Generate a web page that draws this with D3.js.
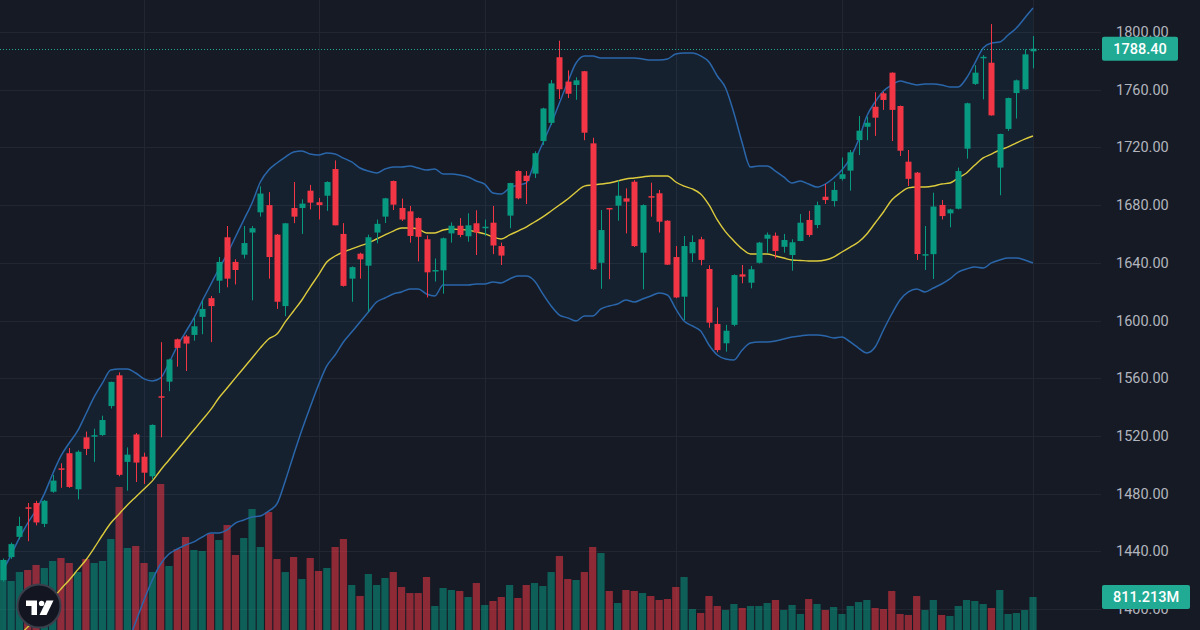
<!DOCTYPE html>
<html>
<head>
<meta charset="utf-8">
<script src="https://cdn.jsdelivr.net/npm/d3@7"></script>
<style>
  html, body { margin: 0; padding: 0; background: #161a25; overflow: hidden; }
</style>
</head>
<body>
<div id="container"></div>
<script>

// daily OHLC (125 candles, oldest first)
const open = [1420,1436,1450,1470.5,1473.5,1459,1481.3,1497.5,1508,1483,1519,1519.5,1520.6,1540.7,1562,1502,1521,1505.6,1492,1547.5,
  1557.6,1587,1589,1590,1602.5,1615.5,1627.6,1657.7,1640.6,1645.6,1661,1675,1680,1659.5,1610,1678,1678,1690,1682,1686.5,
  1705,1660,1629,1646.3,1638,1661,1672,1696.7,1678,1675.7,1671,1656.3,1634,1634.8,1660.4,1665.7,1658.4,1667.4,1664,1667.8,
  1651.6,1672.7,1703.6,1700.4,1701.8,1724.4,1737,1782.5,1765.6,1763.3,1772.8,1722.8,1640,1678,1679.6,1684.7,1696.2,1647,1686.2,1688.2,
  1669.2,1644,1616.5,1646.6,1656.3,1635.7,1597.6,1584.2,1597,1632,1626.2,1640,1656.7,1658.8,1651.1,1645.4,1655.1,1669.7,1666.2,1685.8,
  1682.8,1698.2,1703.9,1725.1,1734.3,1748.2,1757.5,1771.8,1748.7,1710.1,1702.5,1645,1646,1680.1,1674.3,1677.5,1719.1,1764,1782,1778.7,
  1706,1732.8,1757.7,1760.3,1786.6];
const high = [1435,1446,1464,1473.5,1475,1475.6,1493,1501,1511.6,1510,1523,1525,1534,1557.6,1564,1512,1522,1508.4,1528,1585,
  1573.5,1587.5,1590,1602,1614,1617,1644,1665.5,1642.5,1665.5,1665.5,1693,1689,1660,1667.5,1696,1684,1694,1685,1696.5,
  1711,1667.5,1637.5,1647,1659.5,1670,1685,1697,1684.5,1679.4,1671.5,1659,1643,1657.5,1668,1671,1674.3,1676.4,1670,1679.4,
  1654,1695.5,1704,1703.6,1717.3,1747.5,1766.7,1794,1773.4,1768.6,1773,1726.7,1676.6,1678,1697,1691.6,1697.4,1680.5,1695.5,1690.5,
  1669.5,1651.6,1658.6,1659,1658,1638.3,1609,1597,1632,1638.5,1637.8,1654.5,1661,1661,1660,1656.3,1673.8,1676,1682.4,1694.6,
  1696.2,1713,1718.2,1741.8,1741.3,1758.2,1758.6,1772,1749,1718.2,1703,1665.5,1688.6,1683.5,1677.5,1706,1751,1777,1784,1805.5,
  1729.5,1754.5,1767,1788,1797.2];
const low = [1419,1434.7,1448.3,1447,1458,1456.8,1480.6,1484,1484,1476,1506.7,1502,1520,1539,1492,1482,1488,1486.7,1490,1519,
  1551,1568,1565,1586,1590.5,1585,1619,1623,1625,1643,1614,1672,1629,1608,1603,1667.5,1660,1677,1670,1676,
  1666,1623.5,1613,1629,1606,1653.5,1667.6,1676.6,1669,1654,1641,1616,1627,1618.6,1654,1657.7,1654.6,1645.4,1658.6,1646,
  1638.5,1664,1684,1680.8,1698.8,1721.7,1735.5,1753.6,1754.2,1753,1725,1635,1622,1628.6,1669.2,1660.4,1651,1621.6,1672,1661,
  1638.5,1615.5,1600.3,1640.6,1638.3,1595,1578,1578.4,1596,1625.8,1622.3,1639.5,1647,1643,1647,1634.5,1655,1658,1664,1680.8,
  1679,1697,1690,1714.7,1725,1728,1746,1724.4,1714,1693.2,1642,1635,1628.8,1670,1664.6,1677,1712.2,1763.3,1753.3,1742,
  1686.8,1731.4,1740,1760,1774.8];
const close = [1434,1445,1457.5,1469.5,1460,1475,1489,1496.5,1484.6,1509,1511,1520.5,1531,1557.4,1493,1507,1501.5,1494.5,1527.6,1546.5,
  1573,1581,1584,1596,1608,1610,1640.6,1629,1635,1653.7,1664,1688,1644,1613,1667.4,1672,1681,1681.7,1680,1696,
  1666,1624,1637,1642.4,1657.7,1667,1684.7,1680.3,1670,1658.6,1658,1633.4,1635,1657,1665.7,1659.3,1666,1661,1665,1652,
  1645,1695.3,1684.7,1696.7,1716,1747,1764.4,1760.3,1757.2,1766.5,1730.2,1635.5,1662.7,1677.3,1686.5,1682.4,1651.6,1680,1685.5,1668.5,
  1638.7,1616,1651.6,1654.4,1642,1598.5,1579.5,1592.9,1631.5,1630.4,1635.5,1654,1659.5,1648.2,1655.8,1654.2,1667.8,1659.3,1680,1683.5,
  1690.5,1701.4,1716.6,1731.6,1737.1,1740.6,1752.9,1746,1717.7,1698.2,1646.1,1646,1679,1672.4,1677,1703.6,1750.6,1771.8,1782.8,1742.2,
  1729.3,1754.2,1766.5,1784.5,1788.4];

// volume in millions
const volume = [1377,1056,1193,1224,1301,1255,1362,1408,1331,1193,1392,1331,1362,1698,2494,1561,1591,1331,1193,2540,
  1285,1545,1729,1530,1515,1775,1683,1913,1454,1714,2157,1576,2111,1392,1193,1423,1086,1408,1209,1255,
  1576,1698,995,826,1163,995,1102,1193,964,872,872,1117,673,949,918,903,811,1025,689,750,
  811,995,796,995,1025,979,1193,1438,1086,1071,1193,1576,1484,903,719,918,903,872,826,765,
  780,964,1117,627,566,826,673,612,704,643,673,673,719,765,612,689,551,780,704,612,
  658,551,673,734,765,643,627,903,551,536,826,612,765,536,520,673,765,750,704,643,
  918,551,566,612,811.213];

// Bollinger Bands (20, 2) as drawn
const bbUpper = [1426.4,1437.5,1449.3,1459.6,1468.6,1479.8,1493.6,1506.1,1515.1,1523.4,1535.2,1547.0,1556.7,1565.7,1566.4,1566.4,1563.6,1559.5,1558.1,1560.2,
  1570.6,1582.3,1592.0,1601.7,1613.5,1624.6,1635.7,1646.1,1657.9,1669.7,1681.5,1696.0,1704.3,1709.2,1713.3,1716.8,1717.5,1715.4,1714.7,1716.1,
  1715.4,1712.6,1709.9,1705.7,1703.6,1702.3,1705.0,1706.4,1706.4,1707.1,1705.7,1704.3,1705.0,1701.6,1701.6,1700.9,1699.5,1696.7,1694.6,1688.4,
  1687.7,1691.9,1693.9,1695.3,1709.9,1723.1,1736.2,1750.8,1765.3,1778.5,1783.4,1783.4,1782.0,1782.0,1782.0,1782.0,1782.0,1781.3,1780.6,1780.6,
  1781.3,1784.8,1785.4,1785.4,1783.4,1779.2,1769.5,1761.2,1743.8,1723.1,1706.4,1707.1,1707.1,1703.6,1699.5,1695.3,1696.7,1694.6,1692.5,1694.6,
  1698.8,1704.3,1712.6,1725.1,1741.8,1751.5,1759.1,1763.3,1766.0,1764.6,1763.3,1763.9,1763.9,1763.3,1761.9,1761.9,1768.1,1778.5,1788.9,1792.4,
  1793.1,1797.9,1802.8,1809.7,1816.6];
const bbBasis = [1368.1,1374.4,1381.3,1387.5,1391.7,1398.6,1407.0,1413.9,1420.1,1427.1,1434.0,1442.3,1451.3,1459.6,1465.9,1472.1,1477.7,1483.2,1488.8,1496.4,
  1503.3,1510.2,1517.2,1524.1,1531.0,1538.0,1546.3,1553.2,1560.2,1567.1,1574.0,1581.0,1587.2,1590.6,1599.0,1606.6,1614.2,1623.2,1631.6,1640.6,
  1644.7,1647.5,1649.6,1651.7,1653.7,1656.5,1659.3,1662.0,1664.1,1664.1,1663.4,1660.7,1660.7,1662.7,1663.4,1663.1,1662.7,1661.4,1660.0,1657.9,
  1656.5,1659.3,1662.0,1664.8,1668.3,1671.8,1675.9,1680.1,1684.2,1689.1,1693.2,1693.9,1694.6,1695.3,1696.7,1698.1,1698.8,1699.5,1700.2,1700.2,
  1700.2,1696.0,1693.2,1691.2,1687.7,1680.1,1669.7,1661.4,1655.1,1649.6,1646.1,1646.1,1646.1,1644.7,1643.3,1641.9,1641.6,1641.3,1641.3,1641.9,
  1644.0,1647.5,1650.9,1654.4,1660.0,1667.6,1675.2,1683.5,1688.4,1691.9,1692.6,1692.6,1693.2,1694.6,1695.3,1698.8,1702.3,1707.8,1712.7,1715.4,
  1718.2,1720.3,1723.1,1725.8,1727.9];
const bbLower = [1309.8,1311.3,1313.3,1315.4,1314.8,1317.4,1320.4,1321.7,1325.1,1330.8,1332.8,1337.6,1345.9,1350.0,1360.0,1376.0,1391.0,1406.3,1420.1,1431.2,
  1438.1,1441.6,1444.4,1446.5,1449.9,1452.7,1452.7,1454.8,1459.6,1461.7,1463.8,1464.5,1467.9,1472.8,1488.8,1506.8,1524.1,1540.0,1555.3,1568.5,
  1576.1,1585.1,1592.0,1598.9,1605.9,1612.8,1615.6,1618.4,1619.8,1621.8,1621.8,1618.4,1617.0,1624.6,1624.6,1624.6,1624.6,1625.3,1625.3,1626.7,
  1626.0,1628.8,1630.8,1630.8,1627.4,1618.4,1610.1,1603.8,1601.8,1599.7,1603.1,1603.1,1608.0,1610.1,1611.4,1614.2,1612.8,1614.9,1617.0,1619.1,
  1617.7,1608.0,1599.7,1596.2,1592.7,1583.0,1576.1,1573.3,1572.6,1579.6,1584.4,1585.1,1585.1,1585.8,1587.2,1588.6,1589.3,1589.9,1589.9,1589.3,
  1587.9,1588.6,1585.1,1580.9,1577.5,1581.6,1593.4,1604.5,1614.2,1619.8,1621.8,1619.8,1622.5,1625.3,1628.8,1633.6,1635.7,1637.1,1636.4,1639.9,
  1642.0,1643.3,1643.3,1642.0,1639.9];

// candles where a new month starts (vertical grid)
const monthStarts = [17, 38, 58, 81, 101, 124];
const priceTicks = [1400, 1440, 1480, 1520, 1560, 1600, 1640, 1680, 1720, 1760, 1800];
const lastPrice = 1788.40;
const lastVolume = 811.213;

const width = 1200, height = 630;
const paneW = 1101;
const UP = '#089981', DOWN = '#f23645';

const n = close.length;
const x = d3.scaleLinear().domain([0, n - 1]).range([2.8, 1033]);
const y = d3.scaleLinear().domain([1400, 1800]).range([609, 32]);
const yVol = d3.scaleLinear().domain([0, d3.max(volume)]).range([650, 484]);

const svg = d3.create('svg')
    .attr('width', width)
    .attr('height', height)
    .style('display', 'block')
    .style('font-family', 'Roboto, "Liberation Sans", sans-serif');

svg.append('rect').attr('width', width).attr('height', height).attr('fill', '#161a25');

svg.append('clipPath').attr('id', 'pane')
  .append('rect').attr('width', paneW).attr('height', height);

let g = svg.append('g').attr('clip-path', 'url(#pane)');

// grid
g.selectAll('.hgrid').data(priceTicks).enter().append('line')
    .attr('x1', 0).attr('x2', paneW)
    .attr('y1', d => Math.round(y(d)) + 0.5).attr('y2', d => Math.round(y(d)) + 0.5)
    .attr('stroke', '#222631').attr('stroke-width', 1);
g.selectAll('.vgrid').data(monthStarts).enter().append('line')
    .attr('x1', d => Math.round(x(d)) + 0.5).attr('x2', d => Math.round(x(d)) + 0.5)
    .attr('y1', 0).attr('y2', height)
    .attr('stroke', '#222631').attr('stroke-width', 1);

const idx = d3.range(n);

// band fill
g.append('path')
    .datum(idx)
    .attr('d', d3.area().x(i => x(i)).y0(i => y(bbLower[i])).y1(i => y(bbUpper[i])).curve(d3.curveMonotoneX))
    .attr('fill', 'rgba(33,150,243,0.06)');

// volume
g.selectAll('.vol').data(idx).enter().append('rect')
    .attr('x', i => x(i) - 3.6)
    .attr('width', 7.2)
    .attr('y', i => yVol(volume[i]))
    .attr('height', i => yVol(0) - yVol(volume[i]))
    .attr('fill', i => close[i] >= open[i] ? UP : DOWN)
    .attr('fill-opacity', 0.55);

// band lines
const bandLine = arr => d3.line().x(i => x(i)).y(i => y(arr[i])).curve(d3.curveMonotoneX);
[bbUpper, bbLower].forEach(arr => {
  g.append('path').datum(idx).attr('d', bandLine(arr))
      .attr('fill', 'none').attr('stroke', '#2a66aa').attr('stroke-width', 1.5);
});
g.append('path').datum(idx).attr('d', bandLine(bbBasis))
    .attr('fill', 'none').attr('stroke', '#dccb3c').attr('stroke-width', 1.4);

// candles
g.selectAll('.wick').data(idx).enter().append('line')
    .attr('x1', i => Math.round(x(i)) + 0.5).attr('x2', i => Math.round(x(i)) + 0.5)
    .attr('y1', i => y(high[i])).attr('y2', i => y(low[i]))
    .attr('stroke', i => close[i] >= open[i] ? UP : DOWN)
    .attr('stroke-width', 1);
g.selectAll('.body').data(idx).enter().append('rect')
    .attr('x', i => Math.round(x(i)) - 2.5)
    .attr('width', 6)
    .attr('y', i => y(Math.max(open[i], close[i])))
    .attr('height', i => Math.max(1.5, Math.abs(y(open[i]) - y(close[i]))))
    .attr('fill', i => close[i] >= open[i] ? UP : DOWN);

// last price line
g.append('line')
    .attr('x1', 0).attr('x2', paneW)
    .attr('y1', Math.round(y(lastPrice)) + 0.5).attr('y2', Math.round(y(lastPrice)) + 0.5)
    .attr('stroke', '#22ab94').attr('stroke-width', 1).attr('stroke-dasharray', '1,2');

// price scale
svg.selectAll('.plabel').data(priceTicks).enter().append('text')
    .attr('x', 1116).attr('y', d => y(d))
    .attr('dy', '0.35em')
    .attr('fill', '#b2b5be')
    .attr('font-size', 14.5)
    .text(d => d3.format('.2f')(d));

const tag = (yy, w, txt) => {
  svg.append('rect').attr('x', 1102).attr('y', yy - 12).attr('width', w).attr('height', 24)
      .attr('rx', 2).attr('fill', '#22ab94');
  svg.append('text').attr('x', 1102 + w / 2).attr('y', yy).attr('dy', '0.35em')
      .attr('text-anchor', 'middle').attr('fill', '#ffffff')
      .attr('font-size', 14.5).attr('font-weight', 500)
      .text(txt);
};
tag(y(lastPrice), 76, d3.format('.2f')(lastPrice));
tag(yVol(lastVolume), 88, d3.format('.3f')(lastVolume) + 'M');

// logo
let logo = svg.append('g').attr('transform', 'translate(39,606)');
logo.append('circle').attr('r', 21.5).attr('fill', '#131620').attr('stroke', '#3b3f4b').attr('stroke-width', 2);
logo.append('path').attr('d', 'M-13,-5.5 H-2 V9 H-7.5 V0 H-13 Z').attr('fill', '#fff');
logo.append('circle').attr('cx', 2.6).attr('cy', -2.6).attr('r', 2.7).attr('fill', '#fff');
logo.append('path').attr('d', 'M7.5,-5.5 H14.5 L7.5,9 H0.5 Z').attr('fill', '#fff');

container.append(svg.node());

</script>
</body>
</html>
